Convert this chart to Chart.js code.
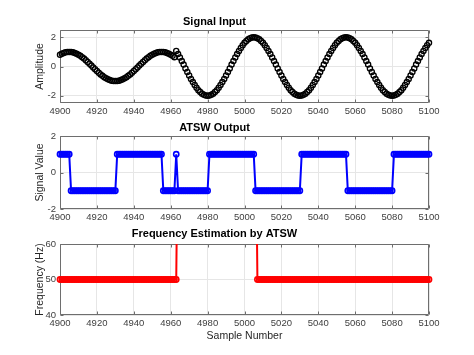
<!DOCTYPE html>
<html>
<head>
<meta charset="utf-8">
<title>ATSW</title>
<script src="https://cdn.jsdelivr.net/npm/chart.js@4.4.1/dist/chart.umd.min.js"></script>
<style>
    body { margin: 0; background: #fff; }
    #wrap { position: relative; width: 474px; height: 355px; }
    canvas { position: absolute; left: 0; }
</style>
</head>
<body>
<div id="wrap">
    <canvas id="c1" width="474" height="120" style="top:0px"></canvas>
    <canvas id="c2" width="474" height="105" style="top:120px"></canvas>
    <canvas id="c3" width="474" height="130" style="top:225px"></canvas>
</div>
<script>
// --- DATA ---
const firstSample = 4900;
const lastSample = 5100;
const xTicks = [4900, 4920, 4940, 4960, 4980, 5000, 5020, 5040, 5060, 5080, 5100];

const signalTicks = [-2, 0, 2];
const atswTicks = [-2, 0, 2];
const freqTicks = [40, 50, 60];

// one value per sample, 4900..5100
const signalInput = [
    0.81, 0.88, 0.93, 0.97, 0.99, 1.00, 0.99, 0.97, 0.93, 0.88,
    0.81, 0.73, 0.64, 0.54, 0.43, 0.31, 0.19, 0.06, -0.06, -0.19,
    -0.31, -0.43, -0.54, -0.64, -0.73, -0.81, -0.88, -0.93, -0.97, -0.99,
    -1.00, -0.99, -0.97, -0.93, -0.88, -0.81, -0.73, -0.64, -0.54, -0.43,
    -0.31, -0.19, -0.06, 0.06, 0.19, 0.31, 0.43, 0.54, 0.64, 0.73,
    0.81, 0.88, 0.93, 0.97, 0.99, 1.00, 0.99, 0.97, 0.93, 0.88,
    0.81, 0.73, 0.64, 1.07, 0.85, 0.62, 0.37, 0.13, -0.13, -0.37,
    -0.62, -0.85, -1.07, -1.27, -1.46, -1.62, -1.75, -1.86, -1.94, -1.98,
    -2.00, -1.98, -1.94, -1.86, -1.75, -1.62, -1.46, -1.27, -1.07, -0.85,
    -0.62, -0.37, -0.13, 0.13, 0.37, 0.62, 0.85, 1.07, 1.27, 1.46,
    1.62, 1.75, 1.86, 1.94, 1.98, 2.00, 1.98, 1.94, 1.86, 1.75,
    1.62, 1.46, 1.27, 1.07, 0.85, 0.62, 0.37, 0.13, -0.13, -0.37,
    -0.62, -0.85, -1.07, -1.27, -1.46, -1.62, -1.75, -1.86, -1.94, -1.98,
    -2.00, -1.98, -1.94, -1.86, -1.75, -1.62, -1.46, -1.27, -1.07, -0.85,
    -0.62, -0.37, -0.13, 0.13, 0.37, 0.62, 0.85, 1.07, 1.27, 1.46,
    1.62, 1.75, 1.86, 1.94, 1.98, 2.00, 1.98, 1.94, 1.86, 1.75,
    1.62, 1.46, 1.27, 1.07, 0.85, 0.62, 0.37, 0.13, -0.13, -0.37,
    -0.62, -0.85, -1.07, -1.27, -1.46, -1.62, -1.75, -1.86, -1.94, -1.98,
    -2.00, -1.98, -1.94, -1.86, -1.75, -1.62, -1.46, -1.27, -1.07, -0.85,
    -0.62, -0.37, -0.13, 0.13, 0.37, 0.62, 0.85, 1.07, 1.27, 1.46,
    1.62
];

const atswOutput = [
    1, 1, 1, 1, 1, 1, -1, -1, -1, -1,
    -1, -1, -1, -1, -1, -1, -1, -1, -1, -1,
    -1, -1, -1, -1, -1, -1, -1, -1, -1, -1,
    -1, 1, 1, 1, 1, 1, 1, 1, 1, 1,
    1, 1, 1, 1, 1, 1, 1, 1, 1, 1,
    1, 1, 1, 1, 1, 1, -1, -1, -1, -1,
    -1, -1, -1, 1, -1, -1, -1, -1, -1, -1,
    -1, -1, -1, -1, -1, -1, -1, -1, -1, -1,
    -1, 1, 1, 1, 1, 1, 1, 1, 1, 1,
    1, 1, 1, 1, 1, 1, 1, 1, 1, 1,
    1, 1, 1, 1, 1, 1, -1, -1, -1, -1,
    -1, -1, -1, -1, -1, -1, -1, -1, -1, -1,
    -1, -1, -1, -1, -1, -1, -1, -1, -1, -1,
    -1, 1, 1, 1, 1, 1, 1, 1, 1, 1,
    1, 1, 1, 1, 1, 1, 1, 1, 1, 1,
    1, 1, 1, 1, 1, 1, -1, -1, -1, -1,
    -1, -1, -1, -1, -1, -1, -1, -1, -1, -1,
    -1, -1, -1, -1, -1, -1, -1, -1, -1, -1,
    -1, 1, 1, 1, 1, 1, 1, 1, 1, 1,
    1, 1, 1, 1, 1, 1, 1, 1, 1, 1,
    1
];

// estimate is far above the plot range between 4964 and 5006
const freqEstimate = [
    50, 50, 50, 50, 50, 50, 50, 50, 50, 50,
    50, 50, 50, 50, 50, 50, 50, 50, 50, 50,
    50, 50, 50, 50, 50, 50, 50, 50, 50, 50,
    50, 50, 50, 50, 50, 50, 50, 50, 50, 50,
    50, 50, 50, 50, 50, 50, 50, 50, 50, 50,
    50, 50, 50, 50, 50, 50, 50, 50, 50, 50,
    50, 50, 50, 50, 100, 100, 100, 100, 100, 100,
    100, 100, 100, 100, 100, 100, 100, 100, 100, 100,
    100, 100, 100, 100, 100, 100, 100, 100, 100, 100,
    100, 100, 100, 100, 100, 100, 100, 100, 100, 100,
    100, 100, 100, 100, 100, 100, 100, 50, 50, 50,
    50, 50, 50, 50, 50, 50, 50, 50, 50, 50,
    50, 50, 50, 50, 50, 50, 50, 50, 50, 50,
    50, 50, 50, 50, 50, 50, 50, 50, 50, 50,
    50, 50, 50, 50, 50, 50, 50, 50, 50, 50,
    50, 50, 50, 50, 50, 50, 50, 50, 50, 50,
    50, 50, 50, 50, 50, 50, 50, 50, 50, 50,
    50, 50, 50, 50, 50, 50, 50, 50, 50, 50,
    50, 50, 50, 50, 50, 50, 50, 50, 50, 50,
    50, 50, 50, 50, 50, 50, 50, 50, 50, 50,
    50
];

const sampleNumbers = [];
for (let n = firstSample; n <= lastSample; n++) sampleNumbers.push(n);

// --- DRAWING ---
const FONT = '"Liberation Sans", Arial, Helvetica, sans-serif';

// matlab style box with inward tick marks
const boxPlugin = {
    id: 'box',
    beforeDatasetsDraw(chart) {
        const { ctx, chartArea: a, scales: { x, y } } = chart;
        const L = Math.round(a.left) + 0.5, R = Math.round(a.right) - 0.5;
        const T = Math.round(a.top) + 0.5, B = Math.round(a.bottom) - 0.5;
        ctx.save();
        ctx.strokeStyle = '#6e6e6e';
        ctx.lineWidth = 1;
        ctx.beginPath();
        x.ticks.forEach(t => {
            const px = Math.round(x.getPixelForValue(t.value)) + 0.5;
            ctx.moveTo(px, B); ctx.lineTo(px, B - 3);
            ctx.moveTo(px, T); ctx.lineTo(px, T + 3);
        });
        y.ticks.forEach(t => {
            const py = Math.round(y.getPixelForValue(t.value)) + 0.5;
            ctx.moveTo(L, py); ctx.lineTo(L + 3, py);
            ctx.moveTo(R, py); ctx.lineTo(R - 3, py);
        });
        ctx.rect(L, T, R - L, B - T);
        ctx.stroke();
        ctx.restore();
    }
};

function makePanel(id, o) {
    const canvas = document.getElementById(id);
    return new Chart(canvas, {
        type: 'line',
        data: {
            datasets: [{
                data: o.values.map((v, i) => ({ x: sampleNumbers[i], y: v })),
                showLine: o.showLine,
                borderColor: o.color,
                borderWidth: o.lineWidth,
                pointRadius: 2.6,
                pointBorderWidth: o.markerWidth,
                pointBorderColor: o.color,
                pointBackgroundColor: 'rgba(0,0,0,0)',
                tension: 0,
                clip: { left: 5, right: 5, top: 0, bottom: 0 }
            }]
        },
        options: {
            responsive: false,
            animation: false,
            events: [],
            layout: { padding: { left: 0, right: 45, top: 0, bottom: 0 } },
            plugins: {
                legend: { display: false },
                tooltip: { enabled: false },
                title: {
                    display: true,
                    text: o.title,
                    color: '#000',
                    font: { family: FONT, size: 11, weight: 'bold', lineHeight: 1.2 },
                    padding: o.titlePad
                }
            },
            scales: {
                x: {
                    type: 'linear',
                    min: firstSample,
                    max: lastSample,
                    afterBuildTicks: s => { s.ticks = xTicks.map(v => ({ value: v })); },
                    afterFit: s => { s.height = o.xAxisHeight; },
                    grid: { color: '#e6e6e6', drawTicks: false },
                    border: { display: false },
                    ticks: {
                        padding: 3, color: '#404040', maxRotation: 0, autoSkip: false,
                        font: { family: FONT, size: 9.5 },
                        callback: v => String(v)
                    },
                    title: o.xTitle ? {
                        display: true, text: o.xTitle, color: '#262626',
                        font: { family: FONT, size: 10.5 },
                        padding: { top: 0, bottom: 12.7 }
                    } : { display: false }
                },
                y: {
                    type: 'linear',
                    min: o.yMin,
                    max: o.yMax,
                    afterBuildTicks: s => { s.ticks = o.yTicks.map(v => ({ value: v })); },
                    afterFit: s => { s.width = 60; },
                    grid: { color: '#e6e6e6', drawTicks: false },
                    border: { display: false },
                    ticks: {
                        padding: 4, color: '#404040',
                        font: { family: FONT, size: 9.5 },
                        callback: v => String(v)
                    },
                    title: {
                        display: true, text: o.yTitle, color: '#262626',
                        font: { family: FONT, size: 10.5 },
                        padding: { top: 33.7, bottom: 0 }
                    }
                }
            }
        },
        plugins: [boxPlugin]
    });
}

makePanel('c1', {
    title: 'Signal Input', yTitle: 'Amplitude',
    values: signalInput, yMin: -2.5, yMax: 2.5, yTicks: signalTicks,
    color: '#000', showLine: false, lineWidth: 1, markerWidth: 1.3,
    titlePad: { top: 14.9, bottom: 1.9 }, xAxisHeight: 17
});

makePanel('c2', {
    title: 'ATSW Output', yTitle: 'Signal Value',
    values: atswOutput, yMin: -2, yMax: 2, yTicks: atswTicks,
    color: '#0000ff', showLine: true, lineWidth: 2, markerWidth: 1.6,
    titlePad: { top: 1.7, bottom: 1.1 }, xAxisHeight: 16
});

makePanel('c3', {
    title: 'Frequency Estimation by ATSW', yTitle: 'Frequency (Hz)', xTitle: 'Sample Number',
    values: freqEstimate, yMin: 40, yMax: 60, yTicks: freqTicks,
    color: '#ff0000', showLine: true, lineWidth: 2, markerWidth: 1.6,
    titlePad: { top: 2.7, bottom: 3.1 }, xAxisHeight: 40
});
</script>
</body>
</html>
